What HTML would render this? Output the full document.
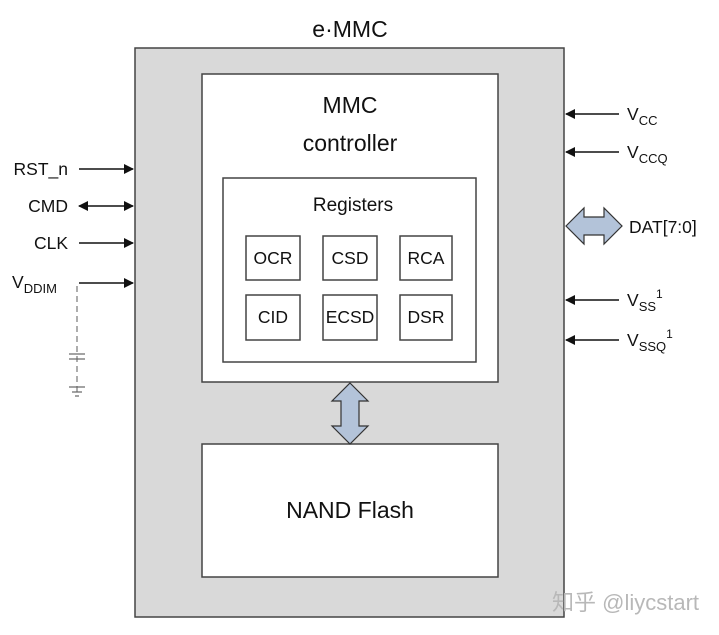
<!DOCTYPE html>
<html><head><meta charset="utf-8"><style>body{margin:0;background:#fff}svg{display:block}</style></head>
<body>
<svg width="719" height="635" xmlns="http://www.w3.org/2000/svg" font-family="Liberation Sans, DejaVu Sans, sans-serif" fill="#111">
<defs>
<marker id="ah" markerWidth="10" markerHeight="10" refX="9" refY="5" orient="auto" markerUnits="userSpaceOnUse"><path d="M0,0 L10,5 L0,10 Z" fill="#111"/></marker>
<marker id="at" markerWidth="10" markerHeight="10" refX="1" refY="5" orient="auto" markerUnits="userSpaceOnUse"><path d="M10,0 L0,5 L10,10 Z" fill="#111"/></marker>
</defs>
<text x="350" y="37" font-size="23" text-anchor="middle">e·MMC</text>
<rect x="135" y="48" width="429" height="569" fill="#d9d9d9" stroke="#444" stroke-width="1.5"/>
<rect x="202" y="74" width="296" height="308" fill="#fff" stroke="#444" stroke-width="1.5"/>
<text x="350" y="113" font-size="23" text-anchor="middle">MMC</text>
<text x="350" y="151" font-size="23" text-anchor="middle">controller</text>
<rect x="223" y="178" width="253" height="184" fill="#fff" stroke="#444" stroke-width="1.5"/>
<text x="353" y="211" font-size="19" text-anchor="middle">Registers</text>
<g stroke="#444" stroke-width="1.5" fill="#fff">
<rect x="246" y="236" width="54" height="44"/><rect x="323" y="236" width="54" height="44"/><rect x="400" y="236" width="52" height="44"/>
<rect x="246" y="295" width="54" height="45"/><rect x="323" y="295" width="54" height="45"/><rect x="400" y="295" width="52" height="45"/>
</g>
<g font-size="17.5" text-anchor="middle">
<text x="273" y="264">OCR</text><text x="350" y="264">CSD</text><text x="426" y="264">RCA</text>
<text x="273" y="323">CID</text><text x="350" y="323">ECSD</text><text x="426" y="323">DSR</text>
</g>
<rect x="202" y="444" width="296" height="133" fill="#fff" stroke="#444" stroke-width="1.5"/>
<text x="350" y="518" font-size="23" text-anchor="middle">NAND Flash</text>
<path d="M350,383 L368,401 L359,401 L359,426 L368,426 L350,444 L332,426 L341,426 L341,401 L332,401 Z" fill="#b3c3d9" stroke="#333" stroke-width="1.2"/>
<g stroke="#111" stroke-width="1.5">
<line x1="79" y1="169" x2="133" y2="169" marker-end="url(#ah)"/>
<line x1="79" y1="206" x2="133" y2="206" marker-end="url(#ah)" marker-start="url(#at)"/>
<line x1="79" y1="243" x2="133" y2="243" marker-end="url(#ah)"/>
<line x1="79" y1="283" x2="133" y2="283" marker-end="url(#ah)"/>
<line x1="77" y1="286" x2="77" y2="392" stroke="#777" stroke-dasharray="6,4" stroke-width="1.2"/>
<line x1="69" y1="354" x2="85" y2="354" stroke="#666" stroke-width="1.2"/>
<line x1="69" y1="359" x2="85" y2="359" stroke="#666" stroke-width="1.2"/>
<line x1="69" y1="387" x2="85" y2="387" stroke="#666" stroke-width="1.2"/>
<line x1="72" y1="392" x2="82" y2="392" stroke="#666" stroke-width="1.2"/>
<line x1="75" y1="396" x2="79" y2="396" stroke="#666" stroke-width="1.2"/>
<line x1="619" y1="114" x2="566" y2="114" marker-end="url(#ah)"/>
<line x1="619" y1="152" x2="566" y2="152" marker-end="url(#ah)"/>
<line x1="619" y1="300" x2="566" y2="300" marker-end="url(#ah)"/>
<line x1="619" y1="340" x2="566" y2="340" marker-end="url(#ah)"/>
</g>
<g font-size="17.5" text-anchor="end">
<text x="68" y="175">RST_n</text><text x="68" y="212">CMD</text><text x="68" y="249">CLK</text>
</g>
<text x="12" y="288" font-size="17.5">V<tspan font-size="13" dy="5">DDIM</tspan></text>
<text x="627" y="120" font-size="17.5">V<tspan font-size="13" dy="5">CC</tspan></text>
<text x="627" y="158" font-size="17.5">V<tspan font-size="13" dy="5">CCQ</tspan></text>
<text x="627" y="306" font-size="17.5">V<tspan font-size="13" dy="5">SS</tspan><tspan font-size="12" dy="-13">1</tspan></text>
<text x="627" y="346" font-size="17.5">V<tspan font-size="13" dy="5">SSQ</tspan><tspan font-size="12" dy="-13">1</tspan></text>
<path d="M566,226 L584,208 L584,217 L604,217 L604,208 L622,226 L604,244 L604,235 L584,235 L584,244 Z" fill="#b3c3d9" stroke="#333" stroke-width="1.2"/>
<text x="629" y="233" font-size="17.5">DAT[7:0]</text>
<text x="552" y="610" font-size="22" fill="#b8b8b8" font-family="Liberation Sans, Noto Sans CJK SC, sans-serif">知乎 @liycstart</text>
</svg>
</body></html>
